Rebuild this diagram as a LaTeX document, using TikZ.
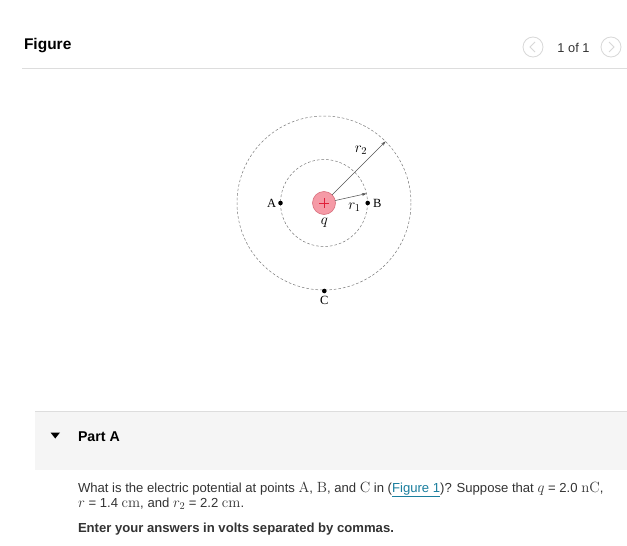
\RequirePackage{fix-cm}
\documentclass[tikz,border=0pt]{standalone}
\usepackage[no-math]{fontspec}
\setmainfont{Liberation Sans}
\newfontfamily\labelserif{Liberation Serif}
\usepackage{tikz}
\usetikzlibrary{positioning, arrows.meta, calc}

\definecolor{chargefill}{HTML}{F59AA6}
\definecolor{chargeedge}{HTML}{D9707E}
\definecolor{plusred}{HTML}{E0203A}
\definecolor{ringgray}{HTML}{7A7A7A}
\definecolor{arrowgray}{HTML}{555555}
\definecolor{rulegray}{HTML}{DDDDDD}
\definecolor{panelgray}{HTML}{F5F5F5}
\definecolor{navgray}{HTML}{D8D8D8}
\definecolor{textgray}{HTML}{333333}
\definecolor{linkteal}{HTML}{1A7E9E}

% math set a little larger than the sans text around it
\newcommand{\mj}[1]{{\fontsize{14.8}{15}\selectfont$#1$}}

\begin{document}
\begin{tikzpicture}[x=1pt,y=-1pt,
    every node/.style={inner sep=0pt, outer sep=0pt},
    ring/.style={draw=ringgray, dash pattern=on 2.6pt off 2pt, line width=0.5pt},
    dot/.style={circle, fill=black, minimum size=4.6pt},
    radarrow/.style={draw=arrowgray, line width=0.55pt, -{Stealth[length=4.5pt,width=3pt]}},
    lbl/.style={font=\labelserif\fontsize{12.5}{12.5}\selectfont},
    mathlbl/.style={font=\fontsize{15}{15}\selectfont},
    navbtn/.style={circle, draw=navgray, line width=0.8pt, minimum size=20pt},
    body/.style={anchor=base west, text=textgray, font=\fontsize{13.1}{15}\selectfont}]

    \useasboundingbox[fill=white] (0,0) rectangle (627,546);

    % header
    \node[anchor=west, text=black, font=\bfseries\fontsize{15.5}{15.5}\selectfont] (title) at (24,46) {Figure};
    \node[navbtn] (prev) at (533,47) {};
    \node[navbtn] (next) at (611,47) {};
    \node[text=textgray, font=\fontsize{12.8}{12.8}\selectfont] (count) at (573.5,47.5) {1 of 1};
    \draw[navgray, line width=1pt] ($(prev)+(2,-5)$) -- ++(-5,5) -- ++(5,5);
    \draw[navgray, line width=1pt] ($(next)+(-2,-5)$) -- ++(5,5) -- ++(-5,5);
    \draw[rulegray, line width=0.8pt] (22,68) -- (627,68);

    % charge and the two rings
    \node[circle, draw=chargeedge, fill=chargefill, line width=0.6pt, minimum size=23pt] (q) at (324,203) {};
    \draw[plusred, line width=0.8pt] ($(q)+(-5,0)$) -- ($(q)+(5,0)$) ($(q)+(0,-5)$) -- ($(q)+(0,5)$);
    \draw[ring] (q.center) circle[radius=43.5];
    \draw[ring] (q.center) circle[radius=87];

    \coordinate (r1end) at ($(q.center)+(-12.5:43.5)$);
    \coordinate (r2end) at ($(q.center)+(-45:87)$);
    \draw[radarrow] (q) -- (r1end);
    \draw[radarrow] (q) -- (r2end);

    % points
    \node[dot] (A) at (280.5,203) {};
    \node[dot] (B) at (367.7,203) {};
    \node[dot] (C) at (324.3,291) {};
    \node[lbl, left=2pt of A] (Alabel) {A};
    \node[lbl, right=3pt of B] (Blabel) {B};
    \node[lbl, below=3pt of C] (Clabel) {C};

    \node[mathlbl] (qlabel) at (324.3,222.5) {$q$};
    \node[mathlbl] (r1label) at (354.5,207) {$r_1$};
    \node[mathlbl] (r2label) at (361,150) {$r_2$};

    % part A panel
    \draw[rulegray, line width=0.8pt] (35,411) -- (627,411);
    \fill[panelgray] (35,411.5) rectangle (627,470);
    \fill[black] (50.5,432.5) -- (60,432.5) -- (55.25,438.5) -- cycle;
    \node[anchor=west, text=black, font=\bfseries\fontsize{14.2}{14.2}\selectfont] (partA) at (78,436.5) {Part A};

    \node[body] (line1) at (78,492) {What is the electric potential at points \mj{\mathrm{A}}, \mj{\mathrm{B}}, and \mj{\mathrm{C}} in ({\color{linkteal}\underline{Figure 1}})? Suppose that \mj{q} = 2.0 \mj{\mathrm{nC}},};
    \node[body] (line2) at (78,507) {\mj{r} = 1.4 \mj{\mathrm{cm}}, and \mj{r_2} = 2.2 \mj{\mathrm{cm}}.};
    \node[body, font=\bfseries\fontsize{13.1}{15}\selectfont] (enter) at (78,532.5) {Enter your answers in volts separated by commas.};
\end{tikzpicture}
\end{document}
